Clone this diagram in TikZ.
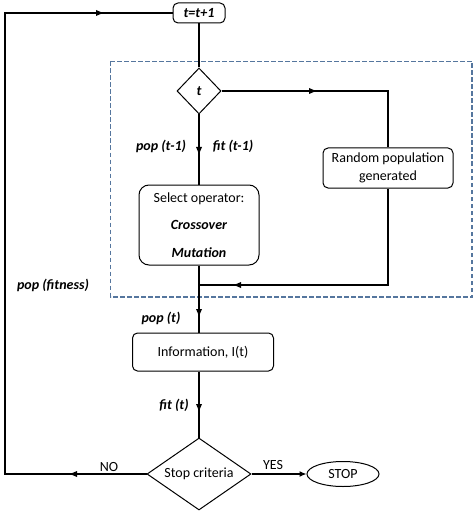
\documentclass[tikz,border=0pt]{standalone}
\usepackage{fontspec}
\setmainfont{Carlito}
\usetikzlibrary{shapes.geometric,arrows.meta,decorations.markings}
\definecolor{rahmenblau}{RGB}{85,118,158}
\newcommand{\schrift}{\fontsize{14}{17.5}\selectfont}
\tikzset{
	kasten/.style={draw, line width=1pt, rounded corners=5pt, align=center, inner sep=2pt},
	raute/.style={draw, diamond, line width=1pt, inner sep=0pt, align=center},
	linie/.style={line width=1.2pt},
	pfeil/.style={postaction={decorate, decoration={markings,
		mark=at position #1 with {\fill (3.5pt,0pt) -- (-3.5pt,3pt) -- (-3.5pt,-3pt) -- cycle;}}}},
	marke/.style={font=\schrift\bfseries\itshape}
}
\begin{document}
\begin{tikzpicture}[x=1pt, y=-1pt, font=\schrift]
	\useasboundingbox (0,0) rectangle (474,513);
	% Rahmen um die Operatoren
	\draw[rahmenblau, line width=1.1pt, dash pattern=on 4.5pt off 2.5pt] (110.5,61.5) rectangle (472,297);

	% Kaesten
	\node[kasten, marke, minimum width=52pt, minimum height=20pt] (tneu) at (199,13) {t=t+1};
	\node[raute, minimum width=44pt, minimum height=46pt] (tent) at (199,91) {\textbf{\textit{t}}};
	\node[kasten, minimum width=130pt, minimum height=40pt] (zufall) at (388,168) {Random population\\generated};
	\node[kasten, rounded corners=10pt, minimum width=120pt, minimum height=80pt] (auswahl) at (199,225)
		{Select operator:\\[10pt] \textbf{\textit{Crossover}}\\[10pt] \textbf{\textit{Mutation}}};
	\node[kasten, minimum width=141pt, minimum height=38pt] (info) at (203,352) {Information, I(t)};
	\node[raute, aspect=1.44, minimum width=104pt, minimum height=72pt] (stopk) at (199,474) {Stop criteria};
	\node[draw, ellipse, line width=1pt, inner sep=0pt, minimum width=72pt, minimum height=25pt] (ende) at (343,474) {STOP};

	% Hilfspunkte
	\coordinate (linksunten) at (5,474);
	\coordinate (linksoben) at (5,13);
	\coordinate (rechtsoben) at (388,91);
	\coordinate (rechtsunten) at (388,285);
	\coordinate (einmuendung) at (199,285);

	% Verbindungen
	\draw[linie] (tneu) -- (tent);
	\draw[linie, pfeil=91pt] (tent.east) -- (rechtsoben) -- (zufall.north);
	\draw[linie, pfeil=36pt] (tent) -- (auswahl);
	\draw[linie, pfeil=247pt] (zufall.south) -- (rechtsunten) -- (einmuendung);
	\draw[linie, pfeil=47pt] (auswahl.south) -- (auswahl.south |- info.north);
	\draw[linie, pfeil=36pt] (stopk.north |- info.south) -- (stopk.north);
	\draw[linie, -{Latex[length=7pt,width=6pt]}] (stopk.east) -- (ende.west);
	\draw[linie, pfeil=73pt, pfeil=697pt] (stopk.west) -- (linksunten) -- (linksoben) -- (tneu.west);

	% Beschriftungen
	\node[marke] (popalt) at (161,146) {pop (t-1)};
	\node[marke] (fitalt) at (233,146) {fit (t-1)};
	\node[marke] (popneu) at (161,318) {pop (t)};
	\node[marke] (fitneu) at (174,405) {fit (t)};
	\node[marke] (popfit) at (53,285) {pop (fitness)};
	\node (nein) at (109,467) {NO};
	\node (ja) at (273,465) {YES};
\end{tikzpicture}
\end{document}
